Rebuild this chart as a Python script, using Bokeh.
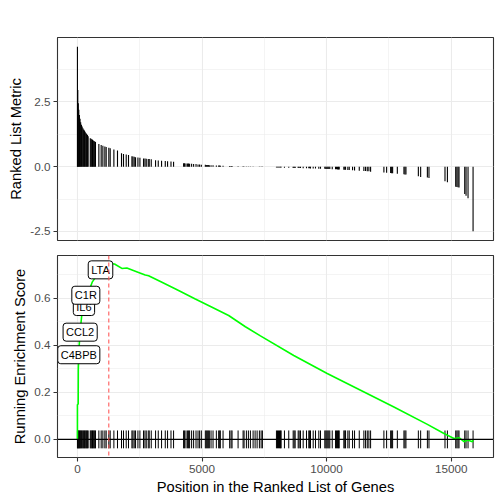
from bokeh.plotting import figure
from bokeh.models import Range1d, FixedTicker, ColumnDataSource, Span, PrintfTickFormatter
from bokeh.layouts import column
from bokeh.embed import file_html
from bokeh.resources import INLINE
from bokeh.core.properties import value

# ---- data ----
hit_pos = [0, 15, 35, 55, 80, 105, 130, 160, 190, 220, 250, 280, 310, 340, 370, 400, 430,
           515, 545, 575, 605, 635, 665, 695, 724,
           860, 953, 1021, 1101, 1154, 1260, 1315, 1463, 1608, 1769, 1849, 1958, 2050,
           2187, 2227, 2279, 2332, 2428, 2508, 2653, 2710, 2762, 2842, 2882, 2963,
           3136, 3244, 3377, 3526, 3618, 3755, 3859,
           4261, 4301, 4358, 4422, 4462, 4502, 4583, 4663, 4760, 4840, 4904, 4973,
           5134, 5174, 5214, 5255, 5295, 5363, 5443, 5576, 5668, 5709, 5735, 5845,
           6110, 6166, 6206, 6448, 6649, 6689, 6782, 6862, 6943, 7051, 7131, 7212,
           7304, 7373, 7425,
           7988, 8030, 8070, 8110, 8150, 8177, 8309, 8482, 8659, 8699, 8739, 8860, 8900, 8953,
           9061, 9194, 9286, 9320, 9355, 9463, 9555, 9688, 9756, 9929, 9970, 10010, 10050,
           10090, 10130, 10227, 10360, 10400, 10440, 10480, 10508, 10693, 10730, 10762,
           10854, 10910, 11043, 11123, 11312, 11497, 11565, 11634, 11698, 11767,
           12301, 12410, 12571, 12611, 12651, 12840, 13105, 13145, 13186, 13684, 13776,
           14046, 14110, 14753, 14850, 15183, 15230, 15276, 15316, 15545, 15598, 15678,
           15880]
metric = [4.63, 2.96, 2.45, 2.20, 2.00, 1.85, 1.72, 1.62, 1.55, 1.49, 1.44, 1.40, 1.35, 1.30, 1.26, 1.22, 1.18,
          1.10, 1.08, 1.06, 1.04, 1.01, 0.99, 0.97, 0.95,
          0.88, 0.84, 0.81, 0.78, 0.76, 0.73, 0.71, 0.66, 0.63, 0.52, 0.49, 0.47, 0.45,
          0.40, 0.39, 0.38, 0.37, 0.36, 0.35, 0.32, 0.32, 0.31, 0.30, 0.30, 0.29,
          0.25, 0.24, 0.23, 0.22, 0.21, 0.20, 0.19,
          0.13, 0.13, 0.12, 0.12, 0.12, 0.11, 0.11, 0.10, 0.10, 0.09, 0.09, 0.08,
          0.08, 0.07, 0.07, 0.07, 0.06, 0.06, 0.06, 0.05, 0.05, 0.05, 0.04, 0.04,
          0.03, 0.03, 0.03, 0.02, 0.02, 0.01, 0.01, 0.01, 0.01, 0.01, 0.00, 0.00,
          -0.01, -0.01, -0.01,
          -0.03, -0.03, -0.03, -0.03, -0.03, -0.03, -0.04, -0.04, -0.05, -0.05, -0.05, -0.05, -0.05, -0.05,
          -0.06, -0.06, -0.06, -0.06, -0.07, -0.07, -0.07, -0.08, -0.08, -0.08, -0.09, -0.09, -0.09,
          -0.09, -0.09, -0.10, -0.10, -0.10, -0.11, -0.11, -0.11, -0.12, -0.12, -0.12,
          -0.13, -0.13, -0.14, -0.15, -0.16, -0.17, -0.17, -0.18, -0.18, -0.19,
          -0.22, -0.23, -0.24, -0.25, -0.25, -0.27, -0.29, -0.30, -0.30, -0.37, -0.40,
          -0.42, -0.44, -0.56, -0.60, -0.77, -0.78, -0.79, -0.80, -1.05, -1.12, -1.22,
          -2.49]

es_pos = [0, 0, 30, 35, 70, 110, 175, 250, 375, 450, 510, 600, 730, 870, 1020, 1150, 1260,
          1488, 1784, 1985, 2453, 2722, 2856, 3392, 4060, 4731, 5403, 6070, 6742, 7345,
          8683, 10025, 11365, 12703, 14046, 14713, 15115, 15316, 15517, 15654, 15855, 15880]
es_val = [0.0, 0.148, 0.150, 0.30, 0.40, 0.46, 0.53, 0.57, 0.61, 0.63, 0.645, 0.67, 0.69, 0.705, 0.72, 0.735, 0.748,
          0.746, 0.727, 0.729, 0.710, 0.699, 0.696, 0.668, 0.633, 0.597, 0.562, 0.527, 0.479, 0.440,
          0.357, 0.280, 0.209, 0.138, 0.064, 0.025, 0.004, 0.007, -0.010, -0.003, -0.010, 0.0]

label_genes = ["C4BPB", "CCL2", "IL6", "C1R", "LTA"]
label_pos = [55, 109, 262, 337, 926]
label_es = [0.36, 0.456, 0.565, 0.613, 0.721]

peak_pos = 1260
x_ticks = [0, 5000, 10000, 15000]
x_minor = [2500, 7500, 12500]
top_ticks = [-2.5, 0.0, 2.5]
top_minor = [-1.25, 1.25, 3.75]
bot_ticks = [0.0, 0.2, 0.4, 0.6]
bot_minor = [0.1, 0.3, 0.5, 0.7]

assert len(hit_pos) == len(metric)
assert len(es_pos) == len(es_val)

FONT = "Liberation Sans"
GRID = "#EBEBEB"
BORDER = "#333333"

x_range = Range1d(-800, 16700)


def style(p):
    p.outline_line_color = BORDER
    p.outline_line_width = 1.1
    p.background_fill_color = "white"
    p.border_fill_color = "white"
    for g in (p.xgrid, p.ygrid):
        g.grid_line_color = GRID
        g.grid_line_width = 1.1
        g.minor_grid_line_color = GRID
        g.minor_grid_line_width = 0.55
    for ax in list(p.xaxis) + list(p.yaxis):
        ax.axis_line_color = None
        ax.major_tick_line_color = BORDER
        ax.major_tick_line_width = 1.1
        ax.major_tick_out = 4
        ax.major_tick_in = 0
        ax.minor_tick_line_color = None
        ax.major_label_text_font = FONT
        ax.major_label_text_font_size = "11.7px"
        ax.major_label_text_color = "#4D4D4D"
        ax.axis_label_text_font = FONT
        ax.axis_label_text_font_size = "14.7px"
        ax.axis_label_text_font_style = "normal"
        ax.axis_label_text_color = "black"
        ax.major_label_standoff = 3
        ax.axis_label_standoff = 3


xt = FixedTicker(ticks=x_ticks, minor_ticks=x_minor)

# ---- top panel ----
p1 = figure(width=504, height=247, x_range=x_range, y_range=Range1d(-2.85, 4.99),
            output_backend="svg", toolbar_location=None,
            min_border_left=57, min_border_right=11, min_border_top=37, min_border_bottom=7)
src = ColumnDataSource(dict(x=hit_pos, m=metric, z=[0] * len(hit_pos)))
p1.segment(x0="x", y0="z", x1="x", y1="m", source=src, line_color="black", line_width=1.1)
style(p1)
p1.xaxis.visible = False
p1.xgrid.ticker = xt
yt1 = FixedTicker(ticks=top_ticks, minor_ticks=top_minor)
p1.yaxis.ticker = yt1
p1.ygrid.ticker = yt1
p1.yaxis.formatter = PrintfTickFormatter(format="%.1f")
p1.yaxis.axis_label = "Ranked List Metric"

# ---- bottom panel ----
p2 = figure(width=504, height=257, x_range=x_range, y_range=Range1d(-0.077, 0.782),
            output_backend="svg", toolbar_location=None,
            min_border_left=57, min_border_right=11, min_border_top=8, min_border_bottom=47)
style(p2)
p2.xaxis.ticker = xt
p2.xgrid.ticker = xt
yt2 = FixedTicker(ticks=bot_ticks, minor_ticks=bot_minor)
p2.yaxis.ticker = yt2
p2.ygrid.ticker = yt2
p2.yaxis.formatter = PrintfTickFormatter(format="%.1f")
p2.xaxis.axis_label = "Position in the Ranked List of Genes"
p2.yaxis.axis_label = "Running Enrichment Score"

tsrc = ColumnDataSource(dict(x=hit_pos, lo=[-0.038] * len(hit_pos), hi=[0.038] * len(hit_pos)))
p2.segment(x0="x", y0="lo", x1="x", y1="hi", source=tsrc, line_color="black", line_width=1.0)
p2.add_layout(Span(location=0, dimension="width", line_color="black", line_width=1.1))
p2.line(es_pos, es_val, line_color="#00FF00", line_width=1.6)
p2.add_layout(Span(location=peak_pos, dimension="height", line_color="#FF4A4A",
                   line_width=1.0, line_dash="4 3"))

lsrc = ColumnDataSource(dict(x=label_pos, y=label_es, g=label_genes))
p2.text(x="x", y="y", text="g", source=lsrc, text_font=value(FONT), text_font_size="11px",
        text_align="center", text_baseline="middle", text_color="black",
        background_fill_color="white", border_line_color="black", border_line_width=1,
        padding=3, border_radius=3)

layout = column(p1, p2, spacing=0)
open("out.html", "w").write(file_html(layout, INLINE))
